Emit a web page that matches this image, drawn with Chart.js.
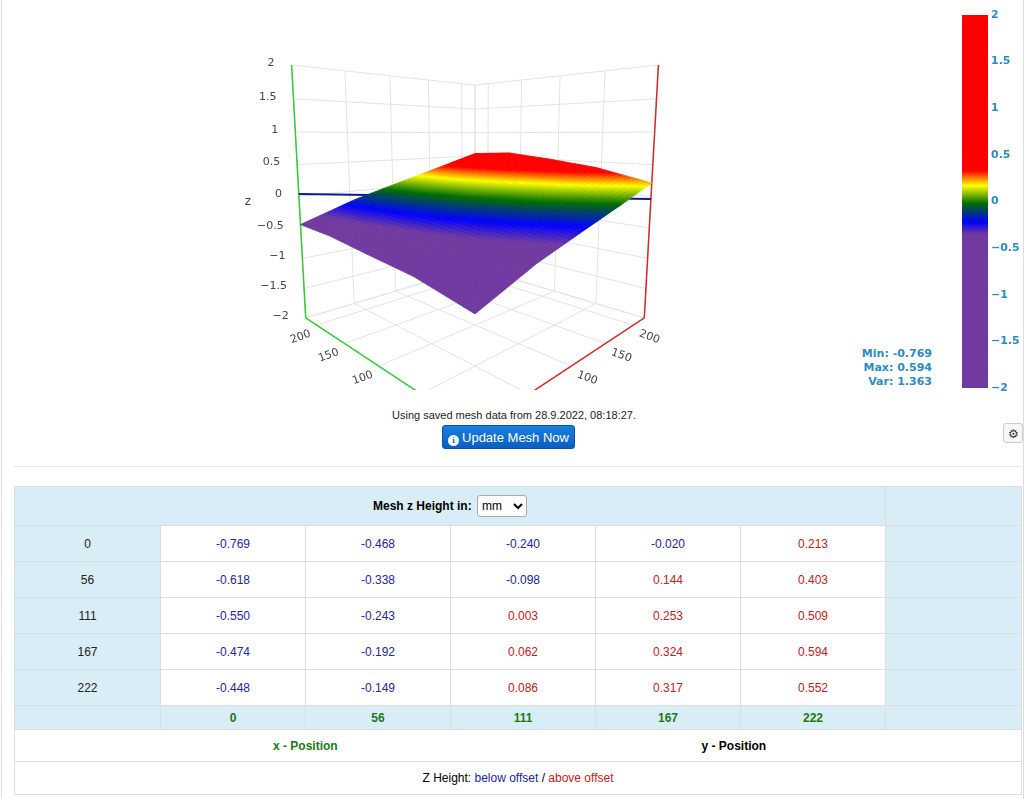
<!DOCTYPE html>
<html>
<head>
<meta charset="utf-8">
<script src="https://cdn.jsdelivr.net/npm/chart.js@4"></script>
<style>
  body { margin: 0; width: 1024px; height: 799px; background: #fff; font-family: "Liberation Sans", Arial, sans-serif; position: relative; overflow: hidden; }
  #frame { position: absolute; left: 1px; top: 0; width: 1021px; height: 799px; border-left: 1px solid #ddd; border-right: 1px solid #ddd; }
  #plot { position: absolute; left: 200px; top: 0; }
  #cbar { position: absolute; left: 940px; top: 0; }
  .stats { position: absolute; right: 92px; top: 347px; text-align: right; font: bold 11px "DejaVu Sans", Verdana, sans-serif; color: #2b8cc4; line-height: 14px; }
  .info { position: absolute; left: 0; width: 1024px; top: 409px; text-align: center; font-size: 11px; color: #222; padding-left: 2px; }
  .btn { position: absolute; left: 442px; top: 425px; width: 133px; height: 24px; border-radius: 3px; background: linear-gradient(#1a7fe0, #0a5fc0); border: 1px solid #0855a8; color: #fff; font-size: 13px; line-height: 24px; text-align: center; box-sizing: border-box; }
  .btn i { display: inline-block; width: 11px; height: 11px; border-radius: 50%; background: #fff; color: #0a66c8; font: bold 9px serif; line-height: 11px; font-style: normal; vertical-align: -1px; margin-right: 3px; }
  .gear { position: absolute; left: 1003px; top: 423px; width: 20px; height: 20px; border: 1px solid #ccc; border-radius: 3px; background: #f6f6f6; font-size: 12px; line-height: 20px; text-align: center; color: #333; box-sizing: border-box; }
  hr { position: absolute; left: 14px; top: 466px; width: 1008px; margin: 0; border: 0; border-top: 1px solid #e6e6e6; }
  table { position: absolute; left: 14px; top: 486px; width: 1008px; border-collapse: collapse; font-size: 12px; table-layout: fixed; }
  td { border: 1px solid #ddd; text-align: center; height: 35px; padding: 0; }
  td.lab { background: #d9edf7; color: #222; }
  td.neg { color: #2525a0; }
  td.pos { color: #c42020; }
  tr.head td { height: 38px; background: #d9edf7; font-weight: bold; }
  tr.xl td { height: 23px; background: #d9edf7; color: #1a7a1a; font-weight: bold; }
  tr.pos td { height: 31px; font-weight: bold; }
  select { font-size: 12px; height: 22px; width: 50px; margin-left: 2px; border: 1px solid #aaa; border-radius: 3px; background: #fff; }
</style>
</head>
<body>
<div id="frame"></div>
<canvas id="plot" width="640" height="390"></canvas>
<canvas id="cbar" width="84" height="400"></canvas>
<div class="stats" id="stats"></div>
<div class="info">Using saved mesh data from 28.9.2022, 08:18:27.</div>
<div class="btn"><i>i</i>Update Mesh Now</div>
<div class="gear">&#9881;</div>
<hr>
<table id="tbl"></table>
<script>
// mesh positions (mm) and measured heights, meshZ[row = y][col = x]
const xPos = [0, 56, 111, 167, 222];
const yPos = [0, 56, 111, 167, 222];
const meshZ = [
  [-0.769, -0.468, -0.240, -0.020, 0.213],
  [-0.618, -0.338, -0.098, 0.144, 0.403],
  [-0.550, -0.243, 0.003, 0.253, 0.509],
  [-0.474, -0.192, 0.062, 0.324, 0.594],
  [-0.448, -0.149, 0.086, 0.317, 0.552]
];
const zTicks = [-2, -1.5, -1, -0.5, 0, 0.5, 1, 1.5, 2];
const gridTicks = [0, 50, 100, 150, 200];
const axisTicks = [100, 150, 200];
const colorStops = [[0, [112, 58, 160]], [0.4125, [112, 58, 160]], [0.445, [0, 0, 255]], [0.495, [0, 110, 0]], [0.5425, [255, 255, 0]], [0.5825, [255, 0, 0]], [1, [255, 0, 0]]];

const zMin = Math.min(...meshZ.flat());
const zMax = Math.max(...meshZ.flat());
document.getElementById("stats").innerHTML =
  `Min: ${zMin.toFixed(3)}<br>Max: ${zMax.toFixed(3)}<br>Var: ${(zMax - zMin).toFixed(3)}`;

// simple perspective camera
const S = Math.sin(8 * Math.PI / 180), C = Math.cos(8 * Math.PI / 180);
const H = 1.024, D = 3.56, F = 443.2;
function proj(x, y, z) {
  const X = (x - 111) / 111, Y = (y - 111) / 111, Z = z / 2 * H;
  const u = (X - Y) / Math.SQRT2, d = (X + Y) / Math.SQRT2;
  const v = Z * C + d * S;
  const w = D + d * C - Z * S;
  return { x: 475 + F * u / w, y: 196.5 - F * v / w, w: w };
}

function zColor(z) {
  const t = Math.max(0, Math.min(1, (z + 2) / 4));
  for (let i = 1; i < colorStops.length; i++) {
    if (t <= colorStops[i][0]) {
      const [t0, c0] = colorStops[i - 1], [t1, c1] = colorStops[i];
      const f = (t - t0) / (t1 - t0 || 1);
      return `rgb(${c0.map((c, k) => Math.round(c + (c1[k] - c) * f)).join(",")})`;
    }
  }
  return "rgb(255,0,0)";
}

// bilinear lookup in the measured mesh (for shading the surface)
function meshAt(x, y) {
  const fx = x / 222 * 4, fy = y / 222 * 4;
  const i = Math.min(3, Math.floor(fx)), j = Math.min(3, Math.floor(fy));
  const a = fx - i, b = fy - j;
  return meshZ[j][i] * (1 - a) * (1 - b) + meshZ[j][i + 1] * a * (1 - b) +
         meshZ[j + 1][i] * (1 - a) * b + meshZ[j + 1][i + 1] * a * b;
}

const scenePlugin = {
  id: "scene",
  afterDatasetsDraw(chart) {
    const ctx = chart.ctx, sx = chart.scales.x, sy = chart.scales.y;
    const P = (x, y, z) => { const p = proj(x, y, z); return [sx.getPixelForValue(p.x), sy.getPixelForValue(p.y), p.w]; };
    const line = (a, b, color, width) => {
      ctx.beginPath(); ctx.moveTo(a[0], a[1]); ctx.lineTo(b[0], b[1]);
      ctx.strokeStyle = color; ctx.lineWidth = width; ctx.stroke();
    };
    ctx.save();
    const g = "#e3e3e3";
    const gx = [...gridTicks, 222];
    // back walls and floor grid
    gx.forEach(t => {
      line(P(t, 222, -2), P(t, 222, 2), g, 1);
      line(P(222, t, -2), P(222, t, 2), g, 1);
      line(P(t, 0, -2), P(t, 222, -2), g, 1);
      line(P(0, t, -2), P(222, t, -2), g, 1);
    });
    zTicks.forEach(z => {
      line(P(0, 222, z), P(222, 222, z), g, 1);
      line(P(222, 222, z), P(222, 0, z), g, 1);
    });
    // axis lines
    line(P(0, 222, -2), P(0, 222, 2), "#33cc33", 1.5);
    line(P(0, 222, -2), P(0, 0, -2), "#33cc33", 1.5);
    line(P(222, 0, -2), P(222, 0, 2), "#d42a2a", 1.5);
    line(P(222, 0, -2), P(0, 0, -2), "#d42a2a", 1.5);
    // zero line
    line(P(0, 222, 0.04), P(222, 0, -0.04), "#0a1a9a", 2);
    // surface
    const N = 48, quads = [];
    for (let j = 0; j < N; j++) {
      for (let i = 0; i < N; i++) {
        const x0 = 222 * i / N, x1 = 222 * (i + 1) / N, y0 = 222 * j / N, y1 = 222 * (j + 1) / N;
        const pts = [[x0, y0], [x1, y0], [x1, y1], [x0, y1]].map(([x, y]) => P(x, y, meshAt(x, y)));
        const zc = meshAt((x0 + x1) / 2, (y0 + y1) / 2);
        quads.push({ pts, col: zColor(zc), w: pts.reduce((s, p) => s + p[2], 0) });
      }
    }
    quads.sort((a, b) => b.w - a.w);
    quads.forEach(q => {
      ctx.beginPath();
      q.pts.forEach((p, k) => k ? ctx.lineTo(p[0], p[1]) : ctx.moveTo(p[0], p[1]));
      ctx.closePath();
      ctx.fillStyle = q.col; ctx.strokeStyle = q.col; ctx.lineWidth = 0.8;
      ctx.fill(); ctx.stroke();
    });
    // tick labels
    ctx.fillStyle = "#444";
    ctx.font = "11px 'DejaVu Sans', Verdana, sans-serif";
    ctx.textAlign = "right"; ctx.textBaseline = "middle";
    zTicks.forEach(z => {
      const p = P(0, 222, z);
      ctx.fillText(z < 0 ? "\u2212" + Math.abs(z) : String(z), p[0] - 17, p[1] - 2);
    });
    ctx.font = "12px 'DejaVu Sans', Verdana, sans-serif";
    const zp = P(0, 222, 0);
    ctx.fillText("z", zp[0] - 48, zp[1] + 5);
    ctx.font = "11px 'DejaVu Sans', Verdana, sans-serif";
    ctx.textAlign = "center";
    axisTicks.forEach(t => {
      let p = P(0, t, -2);
      ctx.save(); ctx.translate(p[0] - 16, p[1] + 12); ctx.rotate(-0.35); ctx.fillText(String(t), 0, 0); ctx.restore();
      p = P(t, 0, -2);
      ctx.save(); ctx.translate(p[0] + 16, p[1] + 12); ctx.rotate(0.35); ctx.fillText(String(t), 0, 0); ctx.restore();
    });
    ctx.font = "12px 'DejaVu Sans', Verdana, sans-serif";
    let p = P(0, 60, -2); ctx.fillText("y", p[0] - 30, p[1] + 12);
    p = P(60, 0, -2); ctx.fillText("x", p[0] + 30, p[1] + 12);
    ctx.restore();
  }
};

new Chart(document.getElementById("plot"), {
  type: "scatter",
  data: { datasets: [{ data: [] }] },
  options: {
    responsive: false, animation: false, events: [],
    layout: { padding: 0 },
    plugins: { legend: { display: false }, tooltip: { enabled: false } },
    scales: {
      x: { display: false, min: 200, max: 840 },
      y: { display: false, min: 0, max: 390, reverse: true }
    }
  },
  plugins: [scenePlugin]
});

new Chart(document.getElementById("cbar"), {
  type: "bar",
  data: {
    labels: [""],
    datasets: [{
      data: [[-2, 2]],
      barPercentage: 1, categoryPercentage: 1, borderSkipped: false,
      backgroundColor: (c) => {
        const area = c.chart.chartArea;
        if (!area) return "#703aa0";
        const gr = c.chart.ctx.createLinearGradient(0, area.bottom, 0, area.top);
        colorStops.forEach(([t, col]) => gr.addColorStop(t, `rgb(${col.join(",")})`));
        return gr;
      }
    }]
  },
  options: {
    responsive: false, animation: false, events: [],
    layout: { padding: { left: 22, top: 15, bottom: 12, right: 0 } },
    plugins: { legend: { display: false }, tooltip: { enabled: false } },
    scales: {
      x: { display: false },
      y: {
        position: "right", min: -2, max: 2,
        grid: { display: false, drawTicks: false }, border: { display: false },
        afterFit: (s) => { s.width = 36; },
        ticks: {
          stepSize: 0.5, padding: 3, color: "#2b8cc4", mirror: false,
          font: { family: "'DejaVu Sans', Verdana, sans-serif", size: 11, weight: "bold" },
          callback: (v) => v < 0 ? "\u2212" + Math.abs(v) : String(v)
        }
      }
    }
  }
});

// table
const fmt = (v) => v.toFixed(3);
let html = `<colgroup><col style="width:146px">` + xPos.map(() => `<col style="width:145px">`).join("") + `<col></colgroup>`;
html += `<tr class="head"><td colspan="6">Mesh z Height in: <select><option>mm</option></select></td><td class="lab"></td></tr>`;
yPos.forEach((y, j) => {
  html += `<tr><td class="lab">${y}</td>` +
    meshZ[j].map(v => `<td class="${v < 0 ? "neg" : "pos"}">${fmt(v)}</td>`).join("") +
    `<td class="lab"></td></tr>`;
});
html += `<tr class="xl"><td></td>` + xPos.map(x => `<td>${x}</td>`).join("") + `<td></td></tr>`;
html += `<tr class="pos"><td colspan="4" style="color:#1a7a1a;text-align:left;padding-left:258px;border-right:0">x - Position</td><td colspan="3" style="text-align:left;padding-left:106px;border-left:0">y - Position</td></tr>`;
html += `<tr><td colspan="7" style="height:32px">Z Height: <span style="color:#2525a0">below offset</span> / <span style="color:#c42020">above offset</span></td></tr>`;
document.getElementById("tbl").innerHTML = html;
</script>
</body>
</html>
